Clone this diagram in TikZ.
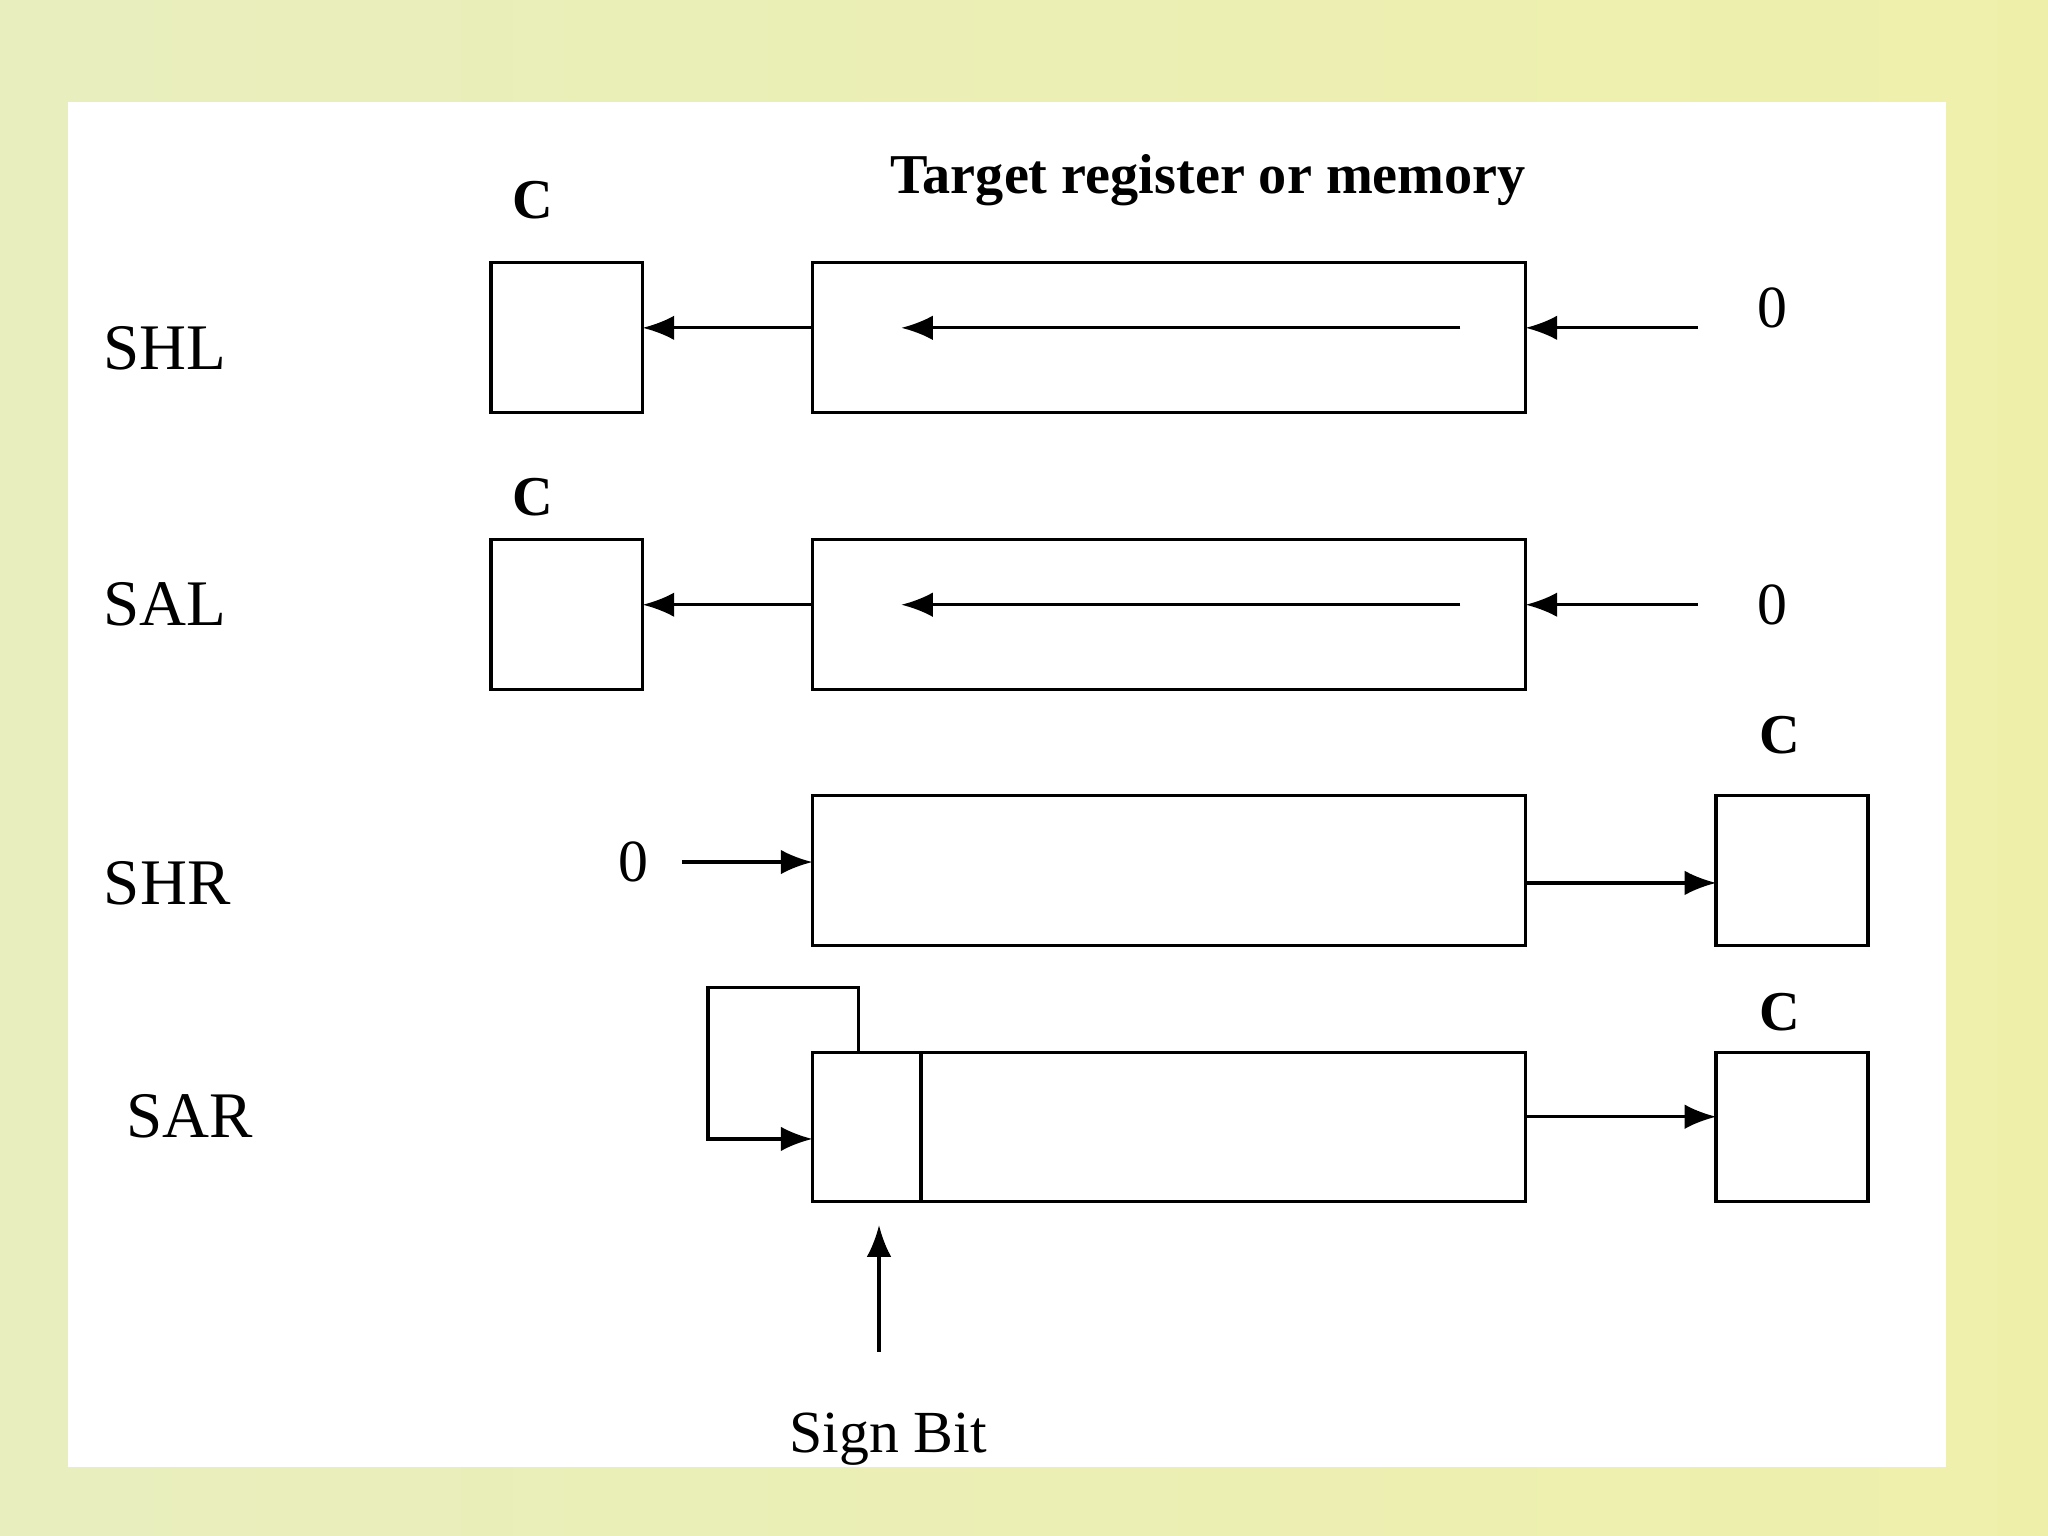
\documentclass[tikz,border=0pt]{standalone}
\usepackage{fontspec}
\setmainfont{Liberation Serif}
\usetikzlibrary{arrows.meta}
\definecolor{bgA}{RGB}{232,238,190}
\definecolor{bgB}{RGB}{238,240,170}
\begin{document}
\begin{tikzpicture}[x=0.013061cm,y=-0.013061cm,
  box/.style={draw,line width=1pt},
  arr/.style={-{Latex[length=9pt,width=7pt]},line width=0.9pt},
  lbl/.style={font=\fontsize{18.5}{20}\selectfont},
  zl/.style={font=\fontsize{17}{19}\selectfont},
  cl/.style={font=\bfseries\fontsize{16}{18}\selectfont}]
\fill[left color=bgA,right color=bgB] (0,0) rectangle (1568,1176);
\fill[white] (52,78) rectangle (1490,1123);
\useasboundingbox (0,0) rectangle (1568,1176);
\node[cl] (title) at (925,138) {Target register or memory};
% SHL
\node[lbl] (shl) at (126,267) {SHL};
\node[cl] (c1) at (408,153) {C};
\draw[box] (376,201) rectangle (492,316);
\draw[box] (622,201) rectangle (1168,316);
\draw[arr] (1118,251) -- (690,251);
\draw[arr] (622,251) -- (492,251);
\draw[arr] (1300,251) -- (1168,251);
\node[zl] (z1) at (1357,236) {0};
% SAL
\node[lbl] (sal) at (126,463) {SAL};
\node[cl] (c2) at (408,381) {C};
\draw[box] (376,413) rectangle (492,528);
\draw[box] (622,413) rectangle (1168,528);
\draw[arr] (1118,463) -- (690,463);
\draw[arr] (622,463) -- (492,463);
\draw[arr] (1300,463) -- (1168,463);
\node[zl] (z2) at (1357,463) {0};
% SHR
\node[lbl] (shr) at (128,676) {SHR};
\node[cl] (c3) at (1363,563) {C};
\draw[box] (622,609) rectangle (1168,724);
\draw[box] (1314,609) rectangle (1430,724);
\draw[arr] (1168,676) -- (1314,676);
\node[zl] (z3) at (485,660) {0};
\draw[arr] (522,660) -- (622,660);
% SAR
\node[lbl] (sar) at (145,855) {SAR};
\node[cl] (c4) at (1363,775) {C};
\draw[box] (622,806) rectangle (1168,920);
\draw[box] (705,806) -- (705,920);
\draw[box] (1314,806) rectangle (1430,920);
\draw[arr] (1168,855) -- (1314,855);
\draw[arr] (657,806) -- (657,756) -- (542,756) -- (542,872) -- (622,872);
\draw[arr] (673,1035) -- (673,938);
\node[zl] (sb) at (680,1102) {Sign Bit};
\end{tikzpicture}
\end{document}
